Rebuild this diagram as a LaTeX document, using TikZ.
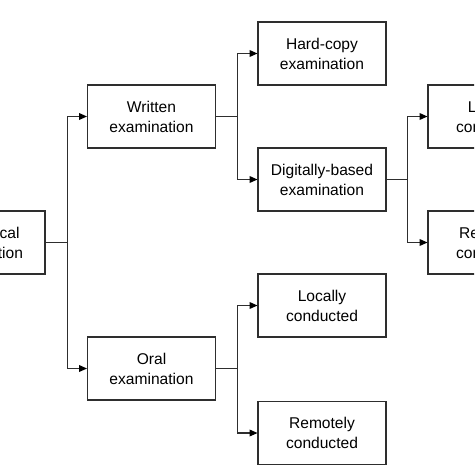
\documentclass[tikz,border=0pt]{standalone}
\usepackage{fontspec}
\setmainfont{Liberation Sans}
\usetikzlibrary{arrows.meta}
\definecolor{boxline}{HTML}{2E2E2E}

\begin{document}
\begin{tikzpicture}[x=0.03cm,y=-0.03cm,
  box/.style={draw=boxline,line width=0.9pt,minimum width=3.84cm,minimum height=1.89cm,
    inner sep=0pt,align=center,font=\fontsize{13.3}{17}\selectfont},
  link/.style={draw=boxline,line width=0.9pt,-{Triangle[length=6.8pt,width=5.8pt,color=black]}}]
\useasboundingbox (0,0) rectangle (474,474);
\clip (0,0) rectangle (474,474);
\fill[white] (0,0) rectangle (474,474);
% first level
\node[box] (theo) at (-19,242.5) {Theoretical\\examination};
% second level
\node[box] (written) at (151.5,116.5) {Written\\examination};
\node[box] (oral) at (151.5,368.5) {Oral\\examination};
% third level
\node[box] (hard) at (322,53.5) {Hard-copy\\examination};
\node[box] (digital) at (322,179.5) {Digitally-based\\examination};
\node[box] (local) at (322,305.5) {Locally\\conducted};
\node[box] (remote) at (322,433) {Remotely\\conducted};
% fourth level
\node[box] (dlocal) at (492,116.5) {Locally\\conducted};
\node[box] (dremote) at (492,242.5) {Remotely\\conducted};
% connectors
\draw[link] (theo.east) -- ++(22,0) |- (written.west);
\draw[link] (theo.east) -- ++(22,0) |- (oral.west);
\draw[link] (written.east) -- ++(21,0) |- (hard.west);
\draw[link] (written.east) -- ++(21,0) |- (digital.west);
\draw[link] (oral.east) -- ++(21,0) |- (local.west);
\draw[link] (oral.east) -- ++(21,0) |- (remote.west);
\draw[link] (digital.east) -- ++(21,0) |- (dlocal.west);
\draw[link] (digital.east) -- ++(21,0) |- (dremote.west);
\end{tikzpicture}
\end{document}
